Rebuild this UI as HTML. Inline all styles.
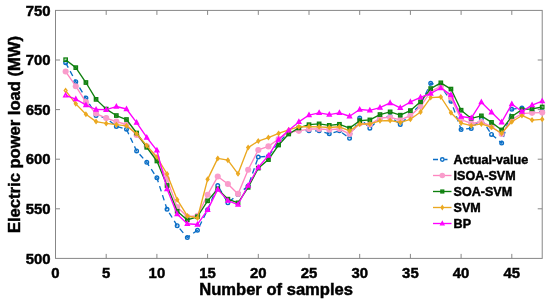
<!DOCTYPE html>
<html><head><meta charset="utf-8"><title>Electric power load forecast</title>
<style>html,body{margin:0;padding:0;background:#fff;}svg{display:block;}</style></head>
<body>
<svg width="550" height="302" viewBox="0 0 550 302" font-family="'Liberation Sans', Arial, sans-serif" font-weight="bold" fill="#000">
<rect width="550" height="302" fill="#fff"/>
<rect x="55.5" y="10.4" width="486.72" height="248.00" fill="none" stroke="#878787" stroke-width="1"/>
<path d="M106.20 258.40v-4.5M106.20 10.40v4.5M156.90 258.40v-4.5M156.90 10.40v4.5M207.60 258.40v-4.5M207.60 10.40v4.5M258.30 258.40v-4.5M258.30 10.40v4.5M309.00 258.40v-4.5M309.00 10.40v4.5M359.70 258.40v-4.5M359.70 10.40v4.5M410.40 258.40v-4.5M410.40 10.40v4.5M461.10 258.40v-4.5M461.10 10.40v4.5M511.80 258.40v-4.5M511.80 10.40v4.5M55.50 208.80h4.5M542.22 208.80h-4.5M55.50 159.20h4.5M542.22 159.20h-4.5M55.50 109.60h4.5M542.22 109.60h-4.5M55.50 60.00h4.5M542.22 60.00h-4.5" stroke="#878787" stroke-width="1" fill="none"/>
<text transform="translate(55.50,278.00) scale(1.037,1)" font-size="14.4" text-anchor="middle" stroke="#000" stroke-width="0.45">0</text>
<text transform="translate(106.20,278.00) scale(1.037,1)" font-size="14.4" text-anchor="middle" stroke="#000" stroke-width="0.45">5</text>
<text transform="translate(156.90,278.00) scale(1.037,1)" font-size="14.4" text-anchor="middle" stroke="#000" stroke-width="0.45">10</text>
<text transform="translate(207.60,278.00) scale(1.037,1)" font-size="14.4" text-anchor="middle" stroke="#000" stroke-width="0.45">15</text>
<text transform="translate(258.30,278.00) scale(1.037,1)" font-size="14.4" text-anchor="middle" stroke="#000" stroke-width="0.45">20</text>
<text transform="translate(309.00,278.00) scale(1.037,1)" font-size="14.4" text-anchor="middle" stroke="#000" stroke-width="0.45">25</text>
<text transform="translate(359.70,278.00) scale(1.037,1)" font-size="14.4" text-anchor="middle" stroke="#000" stroke-width="0.45">30</text>
<text transform="translate(410.40,278.00) scale(1.037,1)" font-size="14.4" text-anchor="middle" stroke="#000" stroke-width="0.45">35</text>
<text transform="translate(461.10,278.00) scale(1.037,1)" font-size="14.4" text-anchor="middle" stroke="#000" stroke-width="0.45">40</text>
<text transform="translate(511.80,278.00) scale(1.037,1)" font-size="14.4" text-anchor="middle" stroke="#000" stroke-width="0.45">45</text>
<text transform="translate(50.60,263.60) scale(1.037,1)" font-size="14.4" text-anchor="end" stroke="#000" stroke-width="0.45">500</text>
<text transform="translate(50.60,214.00) scale(1.037,1)" font-size="14.4" text-anchor="end" stroke="#000" stroke-width="0.45">550</text>
<text transform="translate(50.60,164.40) scale(1.037,1)" font-size="14.4" text-anchor="end" stroke="#000" stroke-width="0.45">600</text>
<text transform="translate(50.60,114.80) scale(1.037,1)" font-size="14.4" text-anchor="end" stroke="#000" stroke-width="0.45">650</text>
<text transform="translate(50.60,65.20) scale(1.037,1)" font-size="14.4" text-anchor="end" stroke="#000" stroke-width="0.45">700</text>
<text transform="translate(50.60,15.60) scale(1.037,1)" font-size="14.4" text-anchor="end" stroke="#000" stroke-width="0.45">750</text>
<text transform="translate(276.10,294.60) scale(1.037,1)" font-size="16" text-anchor="middle" stroke="#000" stroke-width="0.45">Number of samples</text>
<text transform="translate(19.90,134.50) rotate(-90) scale(1.037,1)" font-size="16" text-anchor="middle" stroke="#000" stroke-width="0.45">Electric power load (MW)</text>
<polyline points="65.64,62.78 75.78,81.63 85.92,97.99 96.06,115.55 106.20,118.03 116.34,126.46 126.48,129.24 136.62,150.97 146.76,162.37 156.90,177.85 167.04,209.30 177.18,225.66 187.32,237.57 197.46,230.23 207.60,209.79 217.74,185.59 227.88,202.85 238.02,194.42 248.16,185.98 258.30,157.02 268.44,156.22 278.58,142.34 288.72,132.42 298.86,130.43 309.00,130.83 319.14,130.83 329.28,133.80 339.42,130.83 349.56,138.37 359.70,118.03 369.84,128.15 379.98,118.53 390.12,116.54 400.26,124.48 410.40,114.56 420.54,104.64 430.68,83.31 440.82,85.79 450.96,101.17 461.10,129.44 471.24,128.45 481.38,119.02 491.52,134.40 501.66,143.03 511.80,109.20 521.94,108.01 532.08,111.58 542.22,111.58" fill="none" stroke="#0A6EC6" stroke-width="1.35" stroke-dasharray="5.5 4"/>
<circle cx="65.64" cy="62.78" r="1.8" fill="none" stroke="#0A6EC6" stroke-width="1.4"/>
<circle cx="75.78" cy="81.63" r="1.8" fill="none" stroke="#0A6EC6" stroke-width="1.4"/>
<circle cx="85.92" cy="97.99" r="1.8" fill="none" stroke="#0A6EC6" stroke-width="1.4"/>
<circle cx="96.06" cy="115.55" r="1.8" fill="none" stroke="#0A6EC6" stroke-width="1.4"/>
<circle cx="106.20" cy="118.03" r="1.8" fill="none" stroke="#0A6EC6" stroke-width="1.4"/>
<circle cx="116.34" cy="126.46" r="1.8" fill="none" stroke="#0A6EC6" stroke-width="1.4"/>
<circle cx="126.48" cy="129.24" r="1.8" fill="none" stroke="#0A6EC6" stroke-width="1.4"/>
<circle cx="136.62" cy="150.97" r="1.8" fill="none" stroke="#0A6EC6" stroke-width="1.4"/>
<circle cx="146.76" cy="162.37" r="1.8" fill="none" stroke="#0A6EC6" stroke-width="1.4"/>
<circle cx="156.90" cy="177.85" r="1.8" fill="none" stroke="#0A6EC6" stroke-width="1.4"/>
<circle cx="167.04" cy="209.30" r="1.8" fill="none" stroke="#0A6EC6" stroke-width="1.4"/>
<circle cx="177.18" cy="225.66" r="1.8" fill="none" stroke="#0A6EC6" stroke-width="1.4"/>
<circle cx="187.32" cy="237.57" r="1.8" fill="none" stroke="#0A6EC6" stroke-width="1.4"/>
<circle cx="197.46" cy="230.23" r="1.8" fill="none" stroke="#0A6EC6" stroke-width="1.4"/>
<circle cx="207.60" cy="209.79" r="1.8" fill="none" stroke="#0A6EC6" stroke-width="1.4"/>
<circle cx="217.74" cy="185.59" r="1.8" fill="none" stroke="#0A6EC6" stroke-width="1.4"/>
<circle cx="227.88" cy="202.85" r="1.8" fill="none" stroke="#0A6EC6" stroke-width="1.4"/>
<circle cx="238.02" cy="194.42" r="1.8" fill="none" stroke="#0A6EC6" stroke-width="1.4"/>
<circle cx="248.16" cy="185.98" r="1.8" fill="none" stroke="#0A6EC6" stroke-width="1.4"/>
<circle cx="258.30" cy="157.02" r="1.8" fill="none" stroke="#0A6EC6" stroke-width="1.4"/>
<circle cx="268.44" cy="156.22" r="1.8" fill="none" stroke="#0A6EC6" stroke-width="1.4"/>
<circle cx="278.58" cy="142.34" r="1.8" fill="none" stroke="#0A6EC6" stroke-width="1.4"/>
<circle cx="288.72" cy="132.42" r="1.8" fill="none" stroke="#0A6EC6" stroke-width="1.4"/>
<circle cx="298.86" cy="130.43" r="1.8" fill="none" stroke="#0A6EC6" stroke-width="1.4"/>
<circle cx="309.00" cy="130.83" r="1.8" fill="none" stroke="#0A6EC6" stroke-width="1.4"/>
<circle cx="319.14" cy="130.83" r="1.8" fill="none" stroke="#0A6EC6" stroke-width="1.4"/>
<circle cx="329.28" cy="133.80" r="1.8" fill="none" stroke="#0A6EC6" stroke-width="1.4"/>
<circle cx="339.42" cy="130.83" r="1.8" fill="none" stroke="#0A6EC6" stroke-width="1.4"/>
<circle cx="349.56" cy="138.37" r="1.8" fill="none" stroke="#0A6EC6" stroke-width="1.4"/>
<circle cx="359.70" cy="118.03" r="1.8" fill="none" stroke="#0A6EC6" stroke-width="1.4"/>
<circle cx="369.84" cy="128.15" r="1.8" fill="none" stroke="#0A6EC6" stroke-width="1.4"/>
<circle cx="379.98" cy="118.53" r="1.8" fill="none" stroke="#0A6EC6" stroke-width="1.4"/>
<circle cx="390.12" cy="116.54" r="1.8" fill="none" stroke="#0A6EC6" stroke-width="1.4"/>
<circle cx="400.26" cy="124.48" r="1.8" fill="none" stroke="#0A6EC6" stroke-width="1.4"/>
<circle cx="410.40" cy="114.56" r="1.8" fill="none" stroke="#0A6EC6" stroke-width="1.4"/>
<circle cx="420.54" cy="104.64" r="1.8" fill="none" stroke="#0A6EC6" stroke-width="1.4"/>
<circle cx="430.68" cy="83.31" r="1.8" fill="none" stroke="#0A6EC6" stroke-width="1.4"/>
<circle cx="440.82" cy="85.79" r="1.8" fill="none" stroke="#0A6EC6" stroke-width="1.4"/>
<circle cx="450.96" cy="101.17" r="1.8" fill="none" stroke="#0A6EC6" stroke-width="1.4"/>
<circle cx="461.10" cy="129.44" r="1.8" fill="none" stroke="#0A6EC6" stroke-width="1.4"/>
<circle cx="471.24" cy="128.45" r="1.8" fill="none" stroke="#0A6EC6" stroke-width="1.4"/>
<circle cx="481.38" cy="119.02" r="1.8" fill="none" stroke="#0A6EC6" stroke-width="1.4"/>
<circle cx="491.52" cy="134.40" r="1.8" fill="none" stroke="#0A6EC6" stroke-width="1.4"/>
<circle cx="501.66" cy="143.03" r="1.8" fill="none" stroke="#0A6EC6" stroke-width="1.4"/>
<circle cx="511.80" cy="109.20" r="1.8" fill="none" stroke="#0A6EC6" stroke-width="1.4"/>
<circle cx="521.94" cy="108.01" r="1.8" fill="none" stroke="#0A6EC6" stroke-width="1.4"/>
<circle cx="532.08" cy="111.58" r="1.8" fill="none" stroke="#0A6EC6" stroke-width="1.4"/>
<circle cx="542.22" cy="111.58" r="1.8" fill="none" stroke="#0A6EC6" stroke-width="1.4"/>
<polyline points="65.64,71.51 75.78,86.19 85.92,102.16 96.06,113.57 106.20,118.03 116.34,121.60 126.48,124.48 136.62,135.00 146.76,146.30 156.90,158.21 167.04,179.04 177.18,207.11 187.32,216.74 197.46,215.74 207.60,194.71 217.74,176.56 227.88,184.00 238.02,193.92 248.16,169.72 258.30,149.97 268.44,146.40 278.58,138.96 288.72,132.42 298.86,130.83 309.00,129.04 319.14,129.04 329.28,129.64 339.42,129.04 349.56,133.90 359.70,123.49 369.84,124.48 379.98,118.03 390.12,117.44 400.26,119.82 410.40,115.75 420.54,106.62 430.68,91.45 440.82,86.29 450.96,97.70 461.10,119.52 471.24,123.49 481.38,122.00 491.52,126.46 501.66,134.00 511.80,119.52 521.94,113.57 532.08,112.87 542.22,112.58" fill="none" stroke="#FF86C0" stroke-width="1.35" stroke-linejoin="round"/>
<circle cx="65.64" cy="71.51" r="3.05" fill="#F99CCB" stroke="none" stroke-width="0"/>
<circle cx="75.78" cy="86.19" r="3.05" fill="#F99CCB" stroke="none" stroke-width="0"/>
<circle cx="85.92" cy="102.16" r="3.05" fill="#F99CCB" stroke="none" stroke-width="0"/>
<circle cx="96.06" cy="113.57" r="3.05" fill="#F99CCB" stroke="none" stroke-width="0"/>
<circle cx="106.20" cy="118.03" r="3.05" fill="#F99CCB" stroke="none" stroke-width="0"/>
<circle cx="116.34" cy="121.60" r="3.05" fill="#F99CCB" stroke="none" stroke-width="0"/>
<circle cx="126.48" cy="124.48" r="3.05" fill="#F99CCB" stroke="none" stroke-width="0"/>
<circle cx="136.62" cy="135.00" r="3.05" fill="#F99CCB" stroke="none" stroke-width="0"/>
<circle cx="146.76" cy="146.30" r="3.05" fill="#F99CCB" stroke="none" stroke-width="0"/>
<circle cx="156.90" cy="158.21" r="3.05" fill="#F99CCB" stroke="none" stroke-width="0"/>
<circle cx="167.04" cy="179.04" r="3.05" fill="#F99CCB" stroke="none" stroke-width="0"/>
<circle cx="177.18" cy="207.11" r="3.05" fill="#F99CCB" stroke="none" stroke-width="0"/>
<circle cx="187.32" cy="216.74" r="3.05" fill="#F99CCB" stroke="none" stroke-width="0"/>
<circle cx="197.46" cy="215.74" r="3.05" fill="#F99CCB" stroke="none" stroke-width="0"/>
<circle cx="207.60" cy="194.71" r="3.05" fill="#F99CCB" stroke="none" stroke-width="0"/>
<circle cx="217.74" cy="176.56" r="3.05" fill="#F99CCB" stroke="none" stroke-width="0"/>
<circle cx="227.88" cy="184.00" r="3.05" fill="#F99CCB" stroke="none" stroke-width="0"/>
<circle cx="238.02" cy="193.92" r="3.05" fill="#F99CCB" stroke="none" stroke-width="0"/>
<circle cx="248.16" cy="169.72" r="3.05" fill="#F99CCB" stroke="none" stroke-width="0"/>
<circle cx="258.30" cy="149.97" r="3.05" fill="#F99CCB" stroke="none" stroke-width="0"/>
<circle cx="268.44" cy="146.40" r="3.05" fill="#F99CCB" stroke="none" stroke-width="0"/>
<circle cx="278.58" cy="138.96" r="3.05" fill="#F99CCB" stroke="none" stroke-width="0"/>
<circle cx="288.72" cy="132.42" r="3.05" fill="#F99CCB" stroke="none" stroke-width="0"/>
<circle cx="298.86" cy="130.83" r="3.05" fill="#F99CCB" stroke="none" stroke-width="0"/>
<circle cx="309.00" cy="129.04" r="3.05" fill="#F99CCB" stroke="none" stroke-width="0"/>
<circle cx="319.14" cy="129.04" r="3.05" fill="#F99CCB" stroke="none" stroke-width="0"/>
<circle cx="329.28" cy="129.64" r="3.05" fill="#F99CCB" stroke="none" stroke-width="0"/>
<circle cx="339.42" cy="129.04" r="3.05" fill="#F99CCB" stroke="none" stroke-width="0"/>
<circle cx="349.56" cy="133.90" r="3.05" fill="#F99CCB" stroke="none" stroke-width="0"/>
<circle cx="359.70" cy="123.49" r="3.05" fill="#F99CCB" stroke="none" stroke-width="0"/>
<circle cx="369.84" cy="124.48" r="3.05" fill="#F99CCB" stroke="none" stroke-width="0"/>
<circle cx="379.98" cy="118.03" r="3.05" fill="#F99CCB" stroke="none" stroke-width="0"/>
<circle cx="390.12" cy="117.44" r="3.05" fill="#F99CCB" stroke="none" stroke-width="0"/>
<circle cx="400.26" cy="119.82" r="3.05" fill="#F99CCB" stroke="none" stroke-width="0"/>
<circle cx="410.40" cy="115.75" r="3.05" fill="#F99CCB" stroke="none" stroke-width="0"/>
<circle cx="420.54" cy="106.62" r="3.05" fill="#F99CCB" stroke="none" stroke-width="0"/>
<circle cx="430.68" cy="91.45" r="3.05" fill="#F99CCB" stroke="none" stroke-width="0"/>
<circle cx="440.82" cy="86.29" r="3.05" fill="#F99CCB" stroke="none" stroke-width="0"/>
<circle cx="450.96" cy="97.70" r="3.05" fill="#F99CCB" stroke="none" stroke-width="0"/>
<circle cx="461.10" cy="119.52" r="3.05" fill="#F99CCB" stroke="none" stroke-width="0"/>
<circle cx="471.24" cy="123.49" r="3.05" fill="#F99CCB" stroke="none" stroke-width="0"/>
<circle cx="481.38" cy="122.00" r="3.05" fill="#F99CCB" stroke="none" stroke-width="0"/>
<circle cx="491.52" cy="126.46" r="3.05" fill="#F99CCB" stroke="none" stroke-width="0"/>
<circle cx="501.66" cy="134.00" r="3.05" fill="#F99CCB" stroke="none" stroke-width="0"/>
<circle cx="511.80" cy="119.52" r="3.05" fill="#F99CCB" stroke="none" stroke-width="0"/>
<circle cx="521.94" cy="113.57" r="3.05" fill="#F99CCB" stroke="none" stroke-width="0"/>
<circle cx="532.08" cy="112.87" r="3.05" fill="#F99CCB" stroke="none" stroke-width="0"/>
<circle cx="542.22" cy="112.58" r="3.05" fill="#F99CCB" stroke="none" stroke-width="0"/>
<polyline points="65.64,59.70 75.78,67.64 85.92,82.52 96.06,99.38 106.20,109.10 116.34,115.55 126.48,119.52 136.62,133.01 146.76,147.30 156.90,160.99 167.04,185.49 177.18,211.28 187.32,219.91 197.46,216.74 207.60,200.86 217.74,188.96 227.88,199.18 238.02,202.85 248.16,187.37 258.30,168.13 268.44,159.60 278.58,145.01 288.72,134.00 298.86,127.95 309.00,124.68 319.14,123.88 329.28,125.37 339.42,124.28 349.56,128.15 359.70,120.71 369.84,119.92 379.98,114.56 390.12,111.88 400.26,115.16 410.40,110.59 420.54,101.86 430.68,88.57 440.82,82.82 450.96,89.07 461.10,110.20 471.24,118.43 481.38,115.85 491.52,122.40 501.66,129.94 511.80,116.44 521.94,109.60 532.08,108.81 542.22,107.02" fill="none" stroke="#0E800E" stroke-width="1.35" stroke-linejoin="round"/>
<rect x="63.94" y="58.00" width="3.40" height="3.40" fill="#0E800E" fill-opacity="0.15" stroke="#0E800E" stroke-width="1.3"/>
<rect x="74.08" y="65.94" width="3.40" height="3.40" fill="#0E800E" fill-opacity="0.7" stroke="#0E800E" stroke-width="1.3"/>
<rect x="84.22" y="80.82" width="3.40" height="3.40" fill="#0E800E" fill-opacity="0.7" stroke="#0E800E" stroke-width="1.3"/>
<rect x="94.36" y="97.68" width="3.40" height="3.40" fill="#0E800E" fill-opacity="0.7" stroke="#0E800E" stroke-width="1.3"/>
<rect x="104.50" y="107.40" width="3.40" height="3.40" fill="#0E800E" fill-opacity="0.7" stroke="#0E800E" stroke-width="1.3"/>
<rect x="114.64" y="113.85" width="3.40" height="3.40" fill="#0E800E" fill-opacity="0.7" stroke="#0E800E" stroke-width="1.3"/>
<rect x="124.78" y="117.82" width="3.40" height="3.40" fill="#0E800E" fill-opacity="0.7" stroke="#0E800E" stroke-width="1.3"/>
<rect x="134.92" y="131.31" width="3.40" height="3.40" fill="#0E800E" fill-opacity="0.7" stroke="#0E800E" stroke-width="1.3"/>
<rect x="145.06" y="145.60" width="3.40" height="3.40" fill="#0E800E" fill-opacity="0.7" stroke="#0E800E" stroke-width="1.3"/>
<rect x="155.20" y="159.29" width="3.40" height="3.40" fill="#0E800E" fill-opacity="0.7" stroke="#0E800E" stroke-width="1.3"/>
<rect x="165.34" y="183.79" width="3.40" height="3.40" fill="#0E800E" fill-opacity="0.7" stroke="#0E800E" stroke-width="1.3"/>
<rect x="175.48" y="209.58" width="3.40" height="3.40" fill="#0E800E" fill-opacity="0.7" stroke="#0E800E" stroke-width="1.3"/>
<rect x="185.62" y="218.21" width="3.40" height="3.40" fill="#0E800E" fill-opacity="0.7" stroke="#0E800E" stroke-width="1.3"/>
<rect x="195.76" y="215.04" width="3.40" height="3.40" fill="#0E800E" fill-opacity="0.7" stroke="#0E800E" stroke-width="1.3"/>
<rect x="205.90" y="199.16" width="3.40" height="3.40" fill="#0E800E" fill-opacity="0.7" stroke="#0E800E" stroke-width="1.3"/>
<rect x="216.04" y="187.26" width="3.40" height="3.40" fill="#0E800E" fill-opacity="0.7" stroke="#0E800E" stroke-width="1.3"/>
<rect x="226.18" y="197.48" width="3.40" height="3.40" fill="#0E800E" fill-opacity="0.7" stroke="#0E800E" stroke-width="1.3"/>
<rect x="236.32" y="201.15" width="3.40" height="3.40" fill="#0E800E" fill-opacity="0.7" stroke="#0E800E" stroke-width="1.3"/>
<rect x="246.46" y="185.67" width="3.40" height="3.40" fill="#0E800E" fill-opacity="0.7" stroke="#0E800E" stroke-width="1.3"/>
<rect x="256.60" y="166.43" width="3.40" height="3.40" fill="#0E800E" fill-opacity="0.7" stroke="#0E800E" stroke-width="1.3"/>
<rect x="266.74" y="157.90" width="3.40" height="3.40" fill="#0E800E" fill-opacity="0.7" stroke="#0E800E" stroke-width="1.3"/>
<rect x="276.88" y="143.31" width="3.40" height="3.40" fill="#0E800E" fill-opacity="0.7" stroke="#0E800E" stroke-width="1.3"/>
<rect x="287.02" y="132.30" width="3.40" height="3.40" fill="#0E800E" fill-opacity="0.7" stroke="#0E800E" stroke-width="1.3"/>
<rect x="297.16" y="126.25" width="3.40" height="3.40" fill="#0E800E" fill-opacity="0.7" stroke="#0E800E" stroke-width="1.3"/>
<rect x="307.30" y="122.98" width="3.40" height="3.40" fill="#0E800E" fill-opacity="0.7" stroke="#0E800E" stroke-width="1.3"/>
<rect x="317.44" y="122.18" width="3.40" height="3.40" fill="#0E800E" fill-opacity="0.7" stroke="#0E800E" stroke-width="1.3"/>
<rect x="327.58" y="123.67" width="3.40" height="3.40" fill="#0E800E" fill-opacity="0.7" stroke="#0E800E" stroke-width="1.3"/>
<rect x="337.72" y="122.58" width="3.40" height="3.40" fill="#0E800E" fill-opacity="0.7" stroke="#0E800E" stroke-width="1.3"/>
<rect x="347.86" y="126.45" width="3.40" height="3.40" fill="#0E800E" fill-opacity="0.7" stroke="#0E800E" stroke-width="1.3"/>
<rect x="358.00" y="119.01" width="3.40" height="3.40" fill="#0E800E" fill-opacity="0.7" stroke="#0E800E" stroke-width="1.3"/>
<rect x="368.14" y="118.22" width="3.40" height="3.40" fill="#0E800E" fill-opacity="0.7" stroke="#0E800E" stroke-width="1.3"/>
<rect x="378.28" y="112.86" width="3.40" height="3.40" fill="#0E800E" fill-opacity="0.7" stroke="#0E800E" stroke-width="1.3"/>
<rect x="388.42" y="110.18" width="3.40" height="3.40" fill="#0E800E" fill-opacity="0.7" stroke="#0E800E" stroke-width="1.3"/>
<rect x="398.56" y="113.46" width="3.40" height="3.40" fill="#0E800E" fill-opacity="0.7" stroke="#0E800E" stroke-width="1.3"/>
<rect x="408.70" y="108.89" width="3.40" height="3.40" fill="#0E800E" fill-opacity="0.7" stroke="#0E800E" stroke-width="1.3"/>
<rect x="418.84" y="100.16" width="3.40" height="3.40" fill="#0E800E" fill-opacity="0.7" stroke="#0E800E" stroke-width="1.3"/>
<rect x="428.98" y="86.87" width="3.40" height="3.40" fill="#0E800E" fill-opacity="0.7" stroke="#0E800E" stroke-width="1.3"/>
<rect x="439.12" y="81.12" width="3.40" height="3.40" fill="#0E800E" fill-opacity="0.7" stroke="#0E800E" stroke-width="1.3"/>
<rect x="449.26" y="87.37" width="3.40" height="3.40" fill="#0E800E" fill-opacity="0.7" stroke="#0E800E" stroke-width="1.3"/>
<rect x="459.40" y="108.50" width="3.40" height="3.40" fill="#0E800E" fill-opacity="0.7" stroke="#0E800E" stroke-width="1.3"/>
<rect x="469.54" y="116.73" width="3.40" height="3.40" fill="#0E800E" fill-opacity="0.7" stroke="#0E800E" stroke-width="1.3"/>
<rect x="479.68" y="114.15" width="3.40" height="3.40" fill="#0E800E" fill-opacity="0.7" stroke="#0E800E" stroke-width="1.3"/>
<rect x="489.82" y="120.70" width="3.40" height="3.40" fill="#0E800E" fill-opacity="0.7" stroke="#0E800E" stroke-width="1.3"/>
<rect x="499.96" y="128.24" width="3.40" height="3.40" fill="#0E800E" fill-opacity="0.7" stroke="#0E800E" stroke-width="1.3"/>
<rect x="510.10" y="114.74" width="3.40" height="3.40" fill="#0E800E" fill-opacity="0.7" stroke="#0E800E" stroke-width="1.3"/>
<rect x="520.24" y="107.90" width="3.40" height="3.40" fill="#0E800E" fill-opacity="0.7" stroke="#0E800E" stroke-width="1.3"/>
<rect x="530.38" y="107.11" width="3.40" height="3.40" fill="#0E800E" fill-opacity="0.7" stroke="#0E800E" stroke-width="1.3"/>
<rect x="540.52" y="105.32" width="3.40" height="3.40" fill="#0E800E" fill-opacity="0.15" stroke="#0E800E" stroke-width="1.3"/>
<polyline points="65.64,90.55 75.78,103.85 85.92,114.26 96.06,121.60 106.20,123.39 116.34,124.68 126.48,125.87 136.62,133.80 146.76,145.61 156.90,157.02 167.04,173.98 177.18,199.67 187.32,215.94 197.46,218.03 207.60,179.34 217.74,158.41 227.88,160.19 238.02,173.78 248.16,147.59 258.30,141.05 268.44,137.57 278.58,133.41 288.72,129.94 298.86,126.76 309.00,126.56 319.14,126.86 329.28,127.46 339.42,126.76 349.56,130.93 359.70,123.98 369.84,123.98 379.98,120.81 390.12,120.51 400.26,122.40 410.40,119.32 420.54,111.98 430.68,97.60 440.82,97.00 450.96,112.68 461.10,123.09 471.24,125.67 481.38,123.88 491.52,127.26 501.66,133.21 511.80,121.70 521.94,115.45 532.08,120.12 542.22,119.32" fill="none" stroke="#EBA820" stroke-width="1.35" stroke-linejoin="round"/>
<polygon points="65.64,88.55 67.14,90.55 65.64,92.55 64.14,90.55" fill="#EBA820" fill-opacity="0.1" stroke="#EBA820" stroke-width="1.2" stroke-linejoin="miter"/>
<polygon points="75.78,101.85 77.28,103.85 75.78,105.85 74.28,103.85" fill="#EBA820" fill-opacity="0.7" stroke="#EBA820" stroke-width="1.2" stroke-linejoin="miter"/>
<polygon points="85.92,112.26 87.42,114.26 85.92,116.26 84.42,114.26" fill="#EBA820" fill-opacity="0.7" stroke="#EBA820" stroke-width="1.2" stroke-linejoin="miter"/>
<polygon points="96.06,119.60 97.56,121.60 96.06,123.60 94.56,121.60" fill="#EBA820" fill-opacity="0.7" stroke="#EBA820" stroke-width="1.2" stroke-linejoin="miter"/>
<polygon points="106.20,121.39 107.70,123.39 106.20,125.39 104.70,123.39" fill="#EBA820" fill-opacity="0.7" stroke="#EBA820" stroke-width="1.2" stroke-linejoin="miter"/>
<polygon points="116.34,122.68 117.84,124.68 116.34,126.68 114.84,124.68" fill="#EBA820" fill-opacity="0.7" stroke="#EBA820" stroke-width="1.2" stroke-linejoin="miter"/>
<polygon points="126.48,123.87 127.98,125.87 126.48,127.87 124.98,125.87" fill="#EBA820" fill-opacity="0.7" stroke="#EBA820" stroke-width="1.2" stroke-linejoin="miter"/>
<polygon points="136.62,131.80 138.12,133.80 136.62,135.80 135.12,133.80" fill="#EBA820" fill-opacity="0.7" stroke="#EBA820" stroke-width="1.2" stroke-linejoin="miter"/>
<polygon points="146.76,143.61 148.26,145.61 146.76,147.61 145.26,145.61" fill="#EBA820" fill-opacity="0.7" stroke="#EBA820" stroke-width="1.2" stroke-linejoin="miter"/>
<polygon points="156.90,155.02 158.40,157.02 156.90,159.02 155.40,157.02" fill="#EBA820" fill-opacity="0.7" stroke="#EBA820" stroke-width="1.2" stroke-linejoin="miter"/>
<polygon points="167.04,171.98 168.54,173.98 167.04,175.98 165.54,173.98" fill="#EBA820" fill-opacity="0.7" stroke="#EBA820" stroke-width="1.2" stroke-linejoin="miter"/>
<polygon points="177.18,197.67 178.68,199.67 177.18,201.67 175.68,199.67" fill="#EBA820" fill-opacity="0.7" stroke="#EBA820" stroke-width="1.2" stroke-linejoin="miter"/>
<polygon points="187.32,213.94 188.82,215.94 187.32,217.94 185.82,215.94" fill="#EBA820" fill-opacity="0.7" stroke="#EBA820" stroke-width="1.2" stroke-linejoin="miter"/>
<polygon points="197.46,216.03 198.96,218.03 197.46,220.03 195.96,218.03" fill="#EBA820" fill-opacity="0.7" stroke="#EBA820" stroke-width="1.2" stroke-linejoin="miter"/>
<polygon points="207.60,177.34 209.10,179.34 207.60,181.34 206.10,179.34" fill="#EBA820" fill-opacity="0.7" stroke="#EBA820" stroke-width="1.2" stroke-linejoin="miter"/>
<polygon points="217.74,156.41 219.24,158.41 217.74,160.41 216.24,158.41" fill="#EBA820" fill-opacity="0.7" stroke="#EBA820" stroke-width="1.2" stroke-linejoin="miter"/>
<polygon points="227.88,158.19 229.38,160.19 227.88,162.19 226.38,160.19" fill="#EBA820" fill-opacity="0.7" stroke="#EBA820" stroke-width="1.2" stroke-linejoin="miter"/>
<polygon points="238.02,171.78 239.52,173.78 238.02,175.78 236.52,173.78" fill="#EBA820" fill-opacity="0.7" stroke="#EBA820" stroke-width="1.2" stroke-linejoin="miter"/>
<polygon points="248.16,145.59 249.66,147.59 248.16,149.59 246.66,147.59" fill="#EBA820" fill-opacity="0.7" stroke="#EBA820" stroke-width="1.2" stroke-linejoin="miter"/>
<polygon points="258.30,139.05 259.80,141.05 258.30,143.05 256.80,141.05" fill="#EBA820" fill-opacity="0.7" stroke="#EBA820" stroke-width="1.2" stroke-linejoin="miter"/>
<polygon points="268.44,135.57 269.94,137.57 268.44,139.57 266.94,137.57" fill="#EBA820" fill-opacity="0.7" stroke="#EBA820" stroke-width="1.2" stroke-linejoin="miter"/>
<polygon points="278.58,131.41 280.08,133.41 278.58,135.41 277.08,133.41" fill="#EBA820" fill-opacity="0.7" stroke="#EBA820" stroke-width="1.2" stroke-linejoin="miter"/>
<polygon points="288.72,127.94 290.22,129.94 288.72,131.94 287.22,129.94" fill="#EBA820" fill-opacity="0.7" stroke="#EBA820" stroke-width="1.2" stroke-linejoin="miter"/>
<polygon points="298.86,124.76 300.36,126.76 298.86,128.76 297.36,126.76" fill="#EBA820" fill-opacity="0.7" stroke="#EBA820" stroke-width="1.2" stroke-linejoin="miter"/>
<polygon points="309.00,124.56 310.50,126.56 309.00,128.56 307.50,126.56" fill="#EBA820" fill-opacity="0.7" stroke="#EBA820" stroke-width="1.2" stroke-linejoin="miter"/>
<polygon points="319.14,124.86 320.64,126.86 319.14,128.86 317.64,126.86" fill="#EBA820" fill-opacity="0.7" stroke="#EBA820" stroke-width="1.2" stroke-linejoin="miter"/>
<polygon points="329.28,125.46 330.78,127.46 329.28,129.46 327.78,127.46" fill="#EBA820" fill-opacity="0.7" stroke="#EBA820" stroke-width="1.2" stroke-linejoin="miter"/>
<polygon points="339.42,124.76 340.92,126.76 339.42,128.76 337.92,126.76" fill="#EBA820" fill-opacity="0.7" stroke="#EBA820" stroke-width="1.2" stroke-linejoin="miter"/>
<polygon points="349.56,128.93 351.06,130.93 349.56,132.93 348.06,130.93" fill="#EBA820" fill-opacity="0.7" stroke="#EBA820" stroke-width="1.2" stroke-linejoin="miter"/>
<polygon points="359.70,121.98 361.20,123.98 359.70,125.98 358.20,123.98" fill="#EBA820" fill-opacity="0.7" stroke="#EBA820" stroke-width="1.2" stroke-linejoin="miter"/>
<polygon points="369.84,121.98 371.34,123.98 369.84,125.98 368.34,123.98" fill="#EBA820" fill-opacity="0.7" stroke="#EBA820" stroke-width="1.2" stroke-linejoin="miter"/>
<polygon points="379.98,118.81 381.48,120.81 379.98,122.81 378.48,120.81" fill="#EBA820" fill-opacity="0.7" stroke="#EBA820" stroke-width="1.2" stroke-linejoin="miter"/>
<polygon points="390.12,118.51 391.62,120.51 390.12,122.51 388.62,120.51" fill="#EBA820" fill-opacity="0.7" stroke="#EBA820" stroke-width="1.2" stroke-linejoin="miter"/>
<polygon points="400.26,120.40 401.76,122.40 400.26,124.40 398.76,122.40" fill="#EBA820" fill-opacity="0.7" stroke="#EBA820" stroke-width="1.2" stroke-linejoin="miter"/>
<polygon points="410.40,117.32 411.90,119.32 410.40,121.32 408.90,119.32" fill="#EBA820" fill-opacity="0.7" stroke="#EBA820" stroke-width="1.2" stroke-linejoin="miter"/>
<polygon points="420.54,109.98 422.04,111.98 420.54,113.98 419.04,111.98" fill="#EBA820" fill-opacity="0.7" stroke="#EBA820" stroke-width="1.2" stroke-linejoin="miter"/>
<polygon points="430.68,95.60 432.18,97.60 430.68,99.60 429.18,97.60" fill="#EBA820" fill-opacity="0.7" stroke="#EBA820" stroke-width="1.2" stroke-linejoin="miter"/>
<polygon points="440.82,95.00 442.32,97.00 440.82,99.00 439.32,97.00" fill="#EBA820" fill-opacity="0.7" stroke="#EBA820" stroke-width="1.2" stroke-linejoin="miter"/>
<polygon points="450.96,110.68 452.46,112.68 450.96,114.68 449.46,112.68" fill="#EBA820" fill-opacity="0.7" stroke="#EBA820" stroke-width="1.2" stroke-linejoin="miter"/>
<polygon points="461.10,121.09 462.60,123.09 461.10,125.09 459.60,123.09" fill="#EBA820" fill-opacity="0.7" stroke="#EBA820" stroke-width="1.2" stroke-linejoin="miter"/>
<polygon points="471.24,123.67 472.74,125.67 471.24,127.67 469.74,125.67" fill="#EBA820" fill-opacity="0.7" stroke="#EBA820" stroke-width="1.2" stroke-linejoin="miter"/>
<polygon points="481.38,121.88 482.88,123.88 481.38,125.88 479.88,123.88" fill="#EBA820" fill-opacity="0.7" stroke="#EBA820" stroke-width="1.2" stroke-linejoin="miter"/>
<polygon points="491.52,125.26 493.02,127.26 491.52,129.26 490.02,127.26" fill="#EBA820" fill-opacity="0.7" stroke="#EBA820" stroke-width="1.2" stroke-linejoin="miter"/>
<polygon points="501.66,131.21 503.16,133.21 501.66,135.21 500.16,133.21" fill="#EBA820" fill-opacity="0.7" stroke="#EBA820" stroke-width="1.2" stroke-linejoin="miter"/>
<polygon points="511.80,119.70 513.30,121.70 511.80,123.70 510.30,121.70" fill="#EBA820" fill-opacity="0.7" stroke="#EBA820" stroke-width="1.2" stroke-linejoin="miter"/>
<polygon points="521.94,113.45 523.44,115.45 521.94,117.45 520.44,115.45" fill="#EBA820" fill-opacity="0.7" stroke="#EBA820" stroke-width="1.2" stroke-linejoin="miter"/>
<polygon points="532.08,118.12 533.58,120.12 532.08,122.12 530.58,120.12" fill="#EBA820" fill-opacity="0.7" stroke="#EBA820" stroke-width="1.2" stroke-linejoin="miter"/>
<polygon points="542.22,117.32 543.72,119.32 542.22,121.32 540.72,119.32" fill="#EBA820" fill-opacity="0.1" stroke="#EBA820" stroke-width="1.2" stroke-linejoin="miter"/>
<polyline points="65.64,95.32 75.78,99.08 85.92,105.04 96.06,109.50 106.20,109.70 116.34,106.52 126.48,109.00 136.62,122.60 146.76,137.48 156.90,150.37 167.04,188.96 177.18,214.16 187.32,223.78 197.46,224.47 207.60,209.89 217.74,189.36 227.88,200.67 238.02,204.53 248.16,185.49 258.30,167.24 268.44,155.63 278.58,139.46 288.72,130.23 298.86,121.90 309.00,115.06 319.14,112.87 329.28,114.56 339.42,112.87 349.56,116.25 359.70,109.50 369.84,110.39 379.98,107.62 390.12,102.95 400.26,107.81 410.40,101.96 420.54,97.30 430.68,93.43 440.82,87.97 450.96,94.82 461.10,116.54 471.24,118.03 481.38,102.16 491.52,112.18 501.66,122.20 511.80,104.04 521.94,111.58 532.08,105.14 542.22,101.17" fill="none" stroke="#FF00FF" stroke-width="1.35" stroke-linejoin="round"/>
<polygon points="65.64,93.10 67.66,96.87 63.62,96.87" fill="#FF00FF" fill-opacity="0.15" stroke="#FF00FF" stroke-width="1.30" stroke-linejoin="miter"/>
<polygon points="75.78,96.86 77.80,100.63 73.76,100.63" fill="#FF00FF" fill-opacity="0.7" stroke="#FF00FF" stroke-width="1.30" stroke-linejoin="miter"/>
<polygon points="85.92,102.82 87.94,106.59 83.90,106.59" fill="#FF00FF" fill-opacity="0.7" stroke="#FF00FF" stroke-width="1.30" stroke-linejoin="miter"/>
<polygon points="96.06,107.28 98.08,111.05 94.04,111.05" fill="#FF00FF" fill-opacity="0.7" stroke="#FF00FF" stroke-width="1.30" stroke-linejoin="miter"/>
<polygon points="106.20,107.48 108.22,111.25 104.18,111.25" fill="#FF00FF" fill-opacity="0.7" stroke="#FF00FF" stroke-width="1.30" stroke-linejoin="miter"/>
<polygon points="116.34,104.30 118.36,108.07 114.32,108.07" fill="#FF00FF" fill-opacity="0.7" stroke="#FF00FF" stroke-width="1.30" stroke-linejoin="miter"/>
<polygon points="126.48,106.78 128.50,110.55 124.46,110.55" fill="#FF00FF" fill-opacity="0.7" stroke="#FF00FF" stroke-width="1.30" stroke-linejoin="miter"/>
<polygon points="136.62,120.38 138.64,124.15 134.60,124.15" fill="#FF00FF" fill-opacity="0.7" stroke="#FF00FF" stroke-width="1.30" stroke-linejoin="miter"/>
<polygon points="146.76,135.26 148.78,139.03 144.74,139.03" fill="#FF00FF" fill-opacity="0.7" stroke="#FF00FF" stroke-width="1.30" stroke-linejoin="miter"/>
<polygon points="156.90,148.15 158.92,151.92 154.88,151.92" fill="#FF00FF" fill-opacity="0.7" stroke="#FF00FF" stroke-width="1.30" stroke-linejoin="miter"/>
<polygon points="167.04,186.74 169.06,190.51 165.02,190.51" fill="#FF00FF" fill-opacity="0.7" stroke="#FF00FF" stroke-width="1.30" stroke-linejoin="miter"/>
<polygon points="177.18,211.94 179.20,215.71 175.16,215.71" fill="#FF00FF" fill-opacity="0.7" stroke="#FF00FF" stroke-width="1.30" stroke-linejoin="miter"/>
<polygon points="187.32,221.56 189.34,225.33 185.30,225.33" fill="#FF00FF" fill-opacity="0.7" stroke="#FF00FF" stroke-width="1.30" stroke-linejoin="miter"/>
<polygon points="197.46,222.25 199.48,226.02 195.44,226.02" fill="#FF00FF" fill-opacity="0.7" stroke="#FF00FF" stroke-width="1.30" stroke-linejoin="miter"/>
<polygon points="207.60,207.67 209.62,211.44 205.58,211.44" fill="#FF00FF" fill-opacity="0.7" stroke="#FF00FF" stroke-width="1.30" stroke-linejoin="miter"/>
<polygon points="217.74,187.14 219.76,190.91 215.72,190.91" fill="#FF00FF" fill-opacity="0.7" stroke="#FF00FF" stroke-width="1.30" stroke-linejoin="miter"/>
<polygon points="227.88,198.45 229.90,202.22 225.86,202.22" fill="#FF00FF" fill-opacity="0.7" stroke="#FF00FF" stroke-width="1.30" stroke-linejoin="miter"/>
<polygon points="238.02,202.31 240.04,206.08 236.00,206.08" fill="#FF00FF" fill-opacity="0.7" stroke="#FF00FF" stroke-width="1.30" stroke-linejoin="miter"/>
<polygon points="248.16,183.27 250.18,187.04 246.14,187.04" fill="#FF00FF" fill-opacity="0.7" stroke="#FF00FF" stroke-width="1.30" stroke-linejoin="miter"/>
<polygon points="258.30,165.02 260.32,168.79 256.28,168.79" fill="#FF00FF" fill-opacity="0.7" stroke="#FF00FF" stroke-width="1.30" stroke-linejoin="miter"/>
<polygon points="268.44,153.41 270.46,157.18 266.42,157.18" fill="#FF00FF" fill-opacity="0.7" stroke="#FF00FF" stroke-width="1.30" stroke-linejoin="miter"/>
<polygon points="278.58,137.24 280.60,141.01 276.56,141.01" fill="#FF00FF" fill-opacity="0.7" stroke="#FF00FF" stroke-width="1.30" stroke-linejoin="miter"/>
<polygon points="288.72,128.01 290.74,131.78 286.70,131.78" fill="#FF00FF" fill-opacity="0.7" stroke="#FF00FF" stroke-width="1.30" stroke-linejoin="miter"/>
<polygon points="298.86,119.68 300.88,123.45 296.84,123.45" fill="#FF00FF" fill-opacity="0.7" stroke="#FF00FF" stroke-width="1.30" stroke-linejoin="miter"/>
<polygon points="309.00,112.84 311.02,116.61 306.98,116.61" fill="#FF00FF" fill-opacity="0.7" stroke="#FF00FF" stroke-width="1.30" stroke-linejoin="miter"/>
<polygon points="319.14,110.65 321.16,114.42 317.12,114.42" fill="#FF00FF" fill-opacity="0.7" stroke="#FF00FF" stroke-width="1.30" stroke-linejoin="miter"/>
<polygon points="329.28,112.34 331.30,116.11 327.26,116.11" fill="#FF00FF" fill-opacity="0.7" stroke="#FF00FF" stroke-width="1.30" stroke-linejoin="miter"/>
<polygon points="339.42,110.65 341.44,114.42 337.40,114.42" fill="#FF00FF" fill-opacity="0.7" stroke="#FF00FF" stroke-width="1.30" stroke-linejoin="miter"/>
<polygon points="349.56,114.03 351.58,117.80 347.54,117.80" fill="#FF00FF" fill-opacity="0.7" stroke="#FF00FF" stroke-width="1.30" stroke-linejoin="miter"/>
<polygon points="359.70,107.28 361.72,111.05 357.68,111.05" fill="#FF00FF" fill-opacity="0.7" stroke="#FF00FF" stroke-width="1.30" stroke-linejoin="miter"/>
<polygon points="369.84,108.17 371.86,111.94 367.82,111.94" fill="#FF00FF" fill-opacity="0.7" stroke="#FF00FF" stroke-width="1.30" stroke-linejoin="miter"/>
<polygon points="379.98,105.40 382.00,109.17 377.96,109.17" fill="#FF00FF" fill-opacity="0.7" stroke="#FF00FF" stroke-width="1.30" stroke-linejoin="miter"/>
<polygon points="390.12,100.73 392.14,104.50 388.10,104.50" fill="#FF00FF" fill-opacity="0.7" stroke="#FF00FF" stroke-width="1.30" stroke-linejoin="miter"/>
<polygon points="400.26,105.59 402.28,109.36 398.24,109.36" fill="#FF00FF" fill-opacity="0.7" stroke="#FF00FF" stroke-width="1.30" stroke-linejoin="miter"/>
<polygon points="410.40,99.74 412.42,103.51 408.38,103.51" fill="#FF00FF" fill-opacity="0.7" stroke="#FF00FF" stroke-width="1.30" stroke-linejoin="miter"/>
<polygon points="420.54,95.08 422.56,98.85 418.52,98.85" fill="#FF00FF" fill-opacity="0.7" stroke="#FF00FF" stroke-width="1.30" stroke-linejoin="miter"/>
<polygon points="430.68,91.21 432.70,94.98 428.66,94.98" fill="#FF00FF" fill-opacity="0.7" stroke="#FF00FF" stroke-width="1.30" stroke-linejoin="miter"/>
<polygon points="440.82,85.75 442.84,89.52 438.80,89.52" fill="#FF00FF" fill-opacity="0.7" stroke="#FF00FF" stroke-width="1.30" stroke-linejoin="miter"/>
<polygon points="450.96,92.60 452.98,96.37 448.94,96.37" fill="#FF00FF" fill-opacity="0.7" stroke="#FF00FF" stroke-width="1.30" stroke-linejoin="miter"/>
<polygon points="461.10,114.32 463.12,118.09 459.08,118.09" fill="#FF00FF" fill-opacity="0.7" stroke="#FF00FF" stroke-width="1.30" stroke-linejoin="miter"/>
<polygon points="471.24,115.81 473.26,119.58 469.22,119.58" fill="#FF00FF" fill-opacity="0.7" stroke="#FF00FF" stroke-width="1.30" stroke-linejoin="miter"/>
<polygon points="481.38,99.94 483.40,103.71 479.36,103.71" fill="#FF00FF" fill-opacity="0.7" stroke="#FF00FF" stroke-width="1.30" stroke-linejoin="miter"/>
<polygon points="491.52,109.96 493.54,113.73 489.50,113.73" fill="#FF00FF" fill-opacity="0.7" stroke="#FF00FF" stroke-width="1.30" stroke-linejoin="miter"/>
<polygon points="501.66,119.98 503.68,123.75 499.64,123.75" fill="#FF00FF" fill-opacity="0.7" stroke="#FF00FF" stroke-width="1.30" stroke-linejoin="miter"/>
<polygon points="511.80,101.82 513.82,105.59 509.78,105.59" fill="#FF00FF" fill-opacity="0.7" stroke="#FF00FF" stroke-width="1.30" stroke-linejoin="miter"/>
<polygon points="521.94,109.36 523.96,113.13 519.92,113.13" fill="#FF00FF" fill-opacity="0.7" stroke="#FF00FF" stroke-width="1.30" stroke-linejoin="miter"/>
<polygon points="532.08,102.92 534.10,106.69 530.06,106.69" fill="#FF00FF" fill-opacity="0.7" stroke="#FF00FF" stroke-width="1.30" stroke-linejoin="miter"/>
<polygon points="542.22,98.95 544.24,102.72 540.20,102.72" fill="#FF00FF" fill-opacity="0.15" stroke="#FF00FF" stroke-width="1.30" stroke-linejoin="miter"/>
<path d="M433 159.5h5M444.3 159.5h3.2" stroke="#0A6EC6" stroke-width="1.35"/>
<circle cx="442.30" cy="159.50" r="1.75" fill="none" stroke="#0A6EC6" stroke-width="1.4"/>
<text transform="translate(453.60,164.20) scale(1.037,1)" font-size="12.1" text-anchor="start" stroke="#000" stroke-width="0.45">Actual-value</text>
<path d="M433 175.5H451.5" stroke="#FF86C0" stroke-width="1.35"/>
<circle cx="442.30" cy="175.50" r="2.8" fill="#F99CCB" stroke="none" stroke-width="0"/>
<text transform="translate(453.60,180.20) scale(1.037,1)" font-size="12.1" text-anchor="start" stroke="#000" stroke-width="0.45">ISOA-SVM</text>
<path d="M433 191.5H451.5" stroke="#0E800E" stroke-width="1.35"/>
<rect x="440.85" y="190.05" width="2.90" height="2.90" fill="#0E800E" fill-opacity="0.7" stroke="#0E800E" stroke-width="1.3"/>
<text transform="translate(453.60,196.20) scale(1.037,1)" font-size="12.1" text-anchor="start" stroke="#000" stroke-width="0.45">SOA-SVM</text>
<path d="M433 207.5H451.5" stroke="#EBA820" stroke-width="1.35"/>
<polygon points="442.30,205.50 443.60,207.50 442.30,209.50 441.00,207.50" fill="#EBA820" fill-opacity="0.3" stroke="#EBA820" stroke-width="1.1" stroke-linejoin="miter"/>
<text transform="translate(453.60,212.20) scale(1.037,1)" font-size="12.1" text-anchor="start" stroke="#000" stroke-width="0.45">SVM</text>
<path d="M433 223.5H451.5" stroke="#FF00FF" stroke-width="1.35"/>
<polygon points="442.30,221.51 444.08,224.83 440.52,224.83" fill="#FF00FF" fill-opacity="0.7" stroke="#FF00FF" stroke-width="1.14" stroke-linejoin="miter"/>
<text transform="translate(453.60,228.20) scale(1.037,1)" font-size="12.1" text-anchor="start" stroke="#000" stroke-width="0.45">BP</text>
</svg>
</body></html>
